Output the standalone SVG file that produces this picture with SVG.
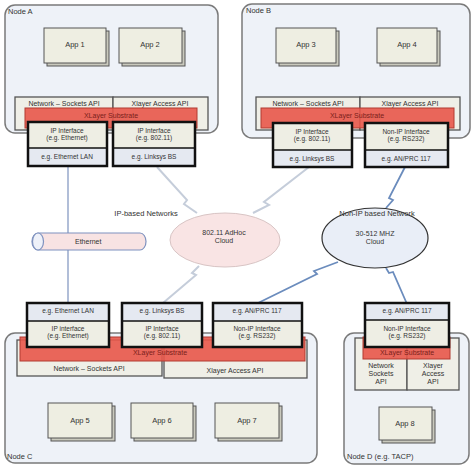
<svg xmlns="http://www.w3.org/2000/svg" width="474" height="470" viewBox="0 0 474 470">
<defs>
<marker id="arr" markerWidth="6" markerHeight="6" refX="5" refY="3" orient="auto" markerUnits="userSpaceOnUse">
<path d="M0,0 L6,3 L0,6 z" fill="#5f86c0"/>
</marker>
<style>
text{font-family:"Liberation Sans",Arial,sans-serif;fill:#333;}
.nlbl{font-size:7.5px;}
.node{fill:#eef2f8;stroke:#7a7a7a;stroke-width:1.5;}
.app{fill:#eeeee2;stroke:#555;stroke-width:1;}
.appd{fill:#c9c9bd;stroke:#555;stroke-width:1;}
.appt{font-size:7.5px;text-anchor:middle;}
.api{fill:#efefe7;stroke:#555;stroke-width:1.3;}
.apit{font-size:7px;text-anchor:middle;}
.sub{fill:#e8564a;fill-opacity:0.9;stroke:#b23a30;stroke-width:1;}
.subt{font-size:7px;text-anchor:middle;fill:#7a1f1a;}
.ifb{fill:#eeeee4;}
.ifl{fill:#e5e9f1;}
.ifo{fill:none;stroke:#111;stroke-width:2.5;}
.ifd{stroke:#111;stroke-width:1.5;}
.ift{font-size:6.5px;text-anchor:middle;}
.con{fill:none;stroke:#6a8fc6;stroke-width:1.8;}
.lg{fill:none;stroke:#c5cdda;stroke-width:2;stroke-linejoin:miter;}
.lb{fill:none;stroke:#6b8cbd;stroke-width:1.8;stroke-linejoin:miter;}
.ct{font-size:7px;text-anchor:middle;}
</style>
</defs>

<!-- Connectors -->
<g id="connectors">
<!-- Node A app links -->
<path class="con" d="M74,63 V96" marker-end="url(#arr)"/>
<path class="con" d="M74,77 H147 V63"/>
<!-- Node B app links -->
<path class="con" d="M306,63 V96" marker-end="url(#arr)"/>
<path class="con" d="M306,77 H407 V63"/>
<!-- Node C app links -->
<path class="con" d="M77,392 V377" marker-end="url(#arr)"/>
<path class="con" d="M77,392 H245 V403 M162,392 V403"/>
<!-- Node D app link -->
<path class="con" d="M394,407 V391" marker-end="url(#arr)"/>
<!-- Ethernet wire -->
<path d="M68,166 V303" fill="none" stroke="#97a9cb" stroke-width="1.5"/>
<path d="M68,242 H73" fill="none" stroke="#97a9cb" stroke-width="1"/>
<!-- lightning links to 802.11 cloud -->
<polyline class="lg" points="157,167 187,200 184,204 197,213"/>
<polyline class="lg" points="309,167 264,202 269,205 253,213"/>
<polyline class="lg" points="199,266 192,273 196,275 163,303"/>
<!-- lightning links to 30-512 cloud -->
<polyline class="lb" points="405,167 389,198 393,200 386,208"/>
<polyline class="lb" points="338,262 314,271 317,274 256,304"/>
<polyline class="lb" points="386,268 389,273 393,272 407,304"/>
</g>

<!-- Node A -->
<g id="nodeA">
<rect class="node" x="5" y="5" width="213" height="128" rx="10"/>
<text class="nlbl" x="8" y="14">Node A</text>
</g>
<g id="app1">
<rect class="appd" x="47" y="31" width="62" height="35"/>
<rect class="app" x="44" y="28" width="62" height="35"/>
<text class="appt" x="75" y="47">App 1</text>
</g>
<g id="app2">
<rect class="appd" x="122" y="31" width="63" height="35"/>
<rect class="app" x="119" y="28" width="63" height="35"/>
<text class="appt" x="150" y="47">App 2</text>
</g>
<g id="apiA">
<rect class="api" x="15" y="97" width="98" height="33"/>
<rect class="api" x="113" y="97" width="95" height="33"/>
<text class="apit" x="64" y="106">Network – Sockets API</text>
<text class="apit" x="160" y="106">Xlayer Access API</text>
</g>
<g id="subA">
<rect class="sub" x="25" y="108" width="172" height="20"/>
<text class="subt" x="111" y="118">XLayer Substrate</text>
</g>
<g id="ifA1">
<rect class="ifb" x="28" y="122" width="79" height="26"/>
<rect class="ifl" x="28" y="148" width="79" height="18"/>
<line class="ifd" x1="28" y1="148" x2="107" y2="148"/>
<rect class="ifo" x="28" y="122" width="79" height="44"/>
<text class="ift" x="67" y="133">IP Interface</text>
<text class="ift" x="67" y="140">(e.g. Ethernet)</text>
<text class="ift" x="67" y="159">e.g. Ethernet LAN</text>
</g>
<g id="ifA2">
<rect class="ifb" x="113" y="122" width="82" height="26"/>
<rect class="ifl" x="113" y="148" width="82" height="18"/>
<line class="ifd" x1="113" y1="148" x2="195" y2="148"/>
<rect class="ifo" x="113" y="122" width="82" height="44"/>
<text class="ift" x="154" y="133">IP Interface</text>
<text class="ift" x="154" y="140">(e.g. 802.11)</text>
<text class="ift" x="154" y="159">e.g. Linksys BS</text>
</g>

<!-- Node B -->
<g id="nodeB">
<rect class="node" x="242" y="4" width="228" height="134" rx="10"/>
<text class="nlbl" x="246" y="13">Node B</text>
</g>
<g id="app3">
<rect class="appd" x="279" y="31" width="60" height="35"/>
<rect class="app" x="276" y="28" width="60" height="35"/>
<text class="appt" x="306" y="47">App 3</text>
</g>
<g id="app4">
<rect class="appd" x="380" y="31" width="60" height="35"/>
<rect class="app" x="377" y="28" width="60" height="35"/>
<text class="appt" x="407" y="47">App 4</text>
</g>
<g id="apiB">
<rect class="api" x="256" y="97" width="104" height="33"/>
<rect class="api" x="360" y="97" width="100" height="33"/>
<text class="apit" x="308" y="106">Network – Sockets API</text>
<text class="apit" x="410" y="106">Xlayer Access API</text>
</g>
<g id="subB">
<rect class="sub" x="261" y="108" width="193" height="20"/>
<text class="subt" x="357" y="118">XLayer Substrate</text>
</g>
<g id="ifB1">
<rect class="ifb" x="273" y="123" width="79" height="27"/>
<rect class="ifl" x="273" y="150" width="79" height="17"/>
<line class="ifd" x1="273" y1="150" x2="352" y2="150"/>
<rect class="ifo" x="273" y="123" width="79" height="44"/>
<text class="ift" x="312" y="134">IP Interface</text>
<text class="ift" x="312" y="141">(e.g. 802.11)</text>
<text class="ift" x="312" y="161">e.g. Linksys BS</text>
</g>
<g id="ifB2">
<rect class="ifb" x="365" y="123" width="83" height="27"/>
<rect class="ifl" x="365" y="150" width="83" height="17"/>
<line class="ifd" x1="365" y1="150" x2="448" y2="150"/>
<rect class="ifo" x="365" y="123" width="83" height="44"/>
<text class="ift" x="406" y="134">Non-IP Interface</text>
<text class="ift" x="406" y="141">(e.g. RS232)</text>
<text class="ift" x="406" y="161">e.g. AN/PRC 117</text>
</g>

<!-- Middle -->
<g id="ethernet">
<path d="M38,233 H140 A6,8.5 0 0 1 140,250 H38 A6,8.5 0 0 1 38,233 Z" fill="#f8e3e3" stroke="#7f92bf" stroke-width="1.2"/>
<ellipse cx="38" cy="241.5" rx="5.5" ry="8.5" fill="#eef1f9" stroke="#7f92bf" stroke-width="1.2"/>
<text class="ct" x="75" y="244" style="text-anchor:start">Ethernet</text>
</g>
<g id="ipnetlabel">
<text class="ct" x="146" y="216" style="font-size:7.5px">IP-based Networks</text>
</g>
<g id="cloud80211">
<ellipse cx="225" cy="240" rx="55" ry="27" fill="#f9e4e4" stroke="#d8c4c4" stroke-width="1"/>
<text class="ct" x="224" y="235">802.11 AdHoc</text>
<text class="ct" x="224" y="243">Cloud</text>
</g>
<g id="cloud30512">
<ellipse cx="375" cy="238" rx="53" ry="30" fill="#e9eef7" stroke="#333" stroke-width="1.2"/>
<text class="ct" x="375" y="236">30-512 MHZ</text>
<text class="ct" x="375" y="244">Cloud</text>
<text class="ct" x="377" y="216" style="font-size:7.5px">Non-IP based Network</text>
</g>

<!-- Node C -->
<g id="nodeC">
<rect class="node" x="5" y="333" width="312" height="130" rx="10"/>
<text class="nlbl" x="7" y="459">Node C</text>
</g>
<g id="apiC">
<rect class="api" x="17" y="340" width="145" height="36"/>
<rect class="api" x="164" y="340" width="143" height="38"/>
<text class="apit" x="89" y="371">Network – Sockets API</text>
<text class="apit" x="235" y="373">Xlayer Access API</text>
</g>
<g id="subC">
<rect class="sub" x="20" y="337" width="285" height="24"/>
<text class="subt" x="160" y="355">XLayer Substrate</text>
</g>
<g id="ifC1">
<rect class="ifl" x="27" y="303" width="82" height="18"/>
<rect class="ifb" x="27" y="321" width="82" height="26"/>
<line class="ifd" x1="27" y1="321" x2="109" y2="321"/>
<rect class="ifo" x="27" y="303" width="82" height="44"/>
<text class="ift" x="68" y="313">e.g. Ethernet LAN</text>
<text class="ift" x="68" y="331">IP interface</text>
<text class="ift" x="68" y="338">(e.g. Ethernet)</text>
</g>
<g id="ifC2">
<rect class="ifl" x="122" y="303" width="80" height="18"/>
<rect class="ifb" x="122" y="321" width="80" height="26"/>
<line class="ifd" x1="122" y1="321" x2="202" y2="321"/>
<rect class="ifo" x="122" y="303" width="80" height="44"/>
<text class="ift" x="162" y="313">e.g. Linksys BS</text>
<text class="ift" x="162" y="331">IP Interface</text>
<text class="ift" x="162" y="338">(e.g. 802.11)</text>
</g>
<g id="ifC3">
<rect class="ifl" x="213" y="303" width="89" height="18"/>
<rect class="ifb" x="213" y="321" width="89" height="26"/>
<line class="ifd" x1="213" y1="321" x2="302" y2="321"/>
<rect class="ifo" x="213" y="303" width="89" height="44"/>
<text class="ift" x="257" y="313">e.g. AN/PRC 117</text>
<text class="ift" x="257" y="331">Non-IP Interface</text>
<text class="ift" x="257" y="338">(e.g. RS232)</text>
</g>
<g id="app5">
<rect class="appd" x="51" y="406" width="64" height="35"/>
<rect class="app" x="48" y="403" width="64" height="35"/>
<text class="appt" x="80" y="423">App 5</text>
</g>
<g id="app6">
<rect class="appd" x="134" y="406" width="62" height="35"/>
<rect class="app" x="131" y="403" width="62" height="35"/>
<text class="appt" x="162" y="423">App 6</text>
</g>
<g id="app7">
<rect class="appd" x="218" y="406" width="64" height="35"/>
<rect class="app" x="215" y="403" width="64" height="35"/>
<text class="appt" x="247" y="423">App 7</text>
</g>

<!-- Node D -->
<g id="nodeD">
<rect class="node" x="344" y="333" width="125" height="131" rx="10"/>
<text class="nlbl" x="347" y="459">Node D (e.g. TACP)</text>
</g>
<g id="apiD">
<rect class="api" x="355" y="338" width="52" height="52"/>
<rect class="api" x="407" y="338" width="52" height="52"/>
<text class="apit" x="381" y="368">Network</text>
<text class="apit" x="381" y="376">Sockets</text>
<text class="apit" x="381" y="384">API</text>
<text class="apit" x="433" y="368">Xlayer</text>
<text class="apit" x="433" y="376">Access</text>
<text class="apit" x="433" y="384">API</text>
</g>
<g id="subD">
<rect class="sub" x="363" y="337" width="87" height="22"/>
<text class="subt" x="407" y="355">XLayer Substrate</text>
</g>
<g id="ifD">
<rect class="ifl" x="365" y="303" width="84" height="17"/>
<rect class="ifb" x="365" y="320" width="84" height="27"/>
<line class="ifd" x1="365" y1="320" x2="449" y2="320"/>
<rect class="ifo" x="365" y="303" width="84" height="44"/>
<text class="ift" x="407" y="313">e.g. AN/PRC 117</text>
<text class="ift" x="407" y="331">Non-IP Interface</text>
<text class="ift" x="407" y="338">(e.g. RS232)</text>
</g>
<g id="app8">
<rect class="appd" x="382" y="410" width="53" height="33"/>
<rect class="app" x="379" y="407" width="53" height="33"/>
<text class="appt" x="405" y="426">App 8</text>
</g>
</svg>
